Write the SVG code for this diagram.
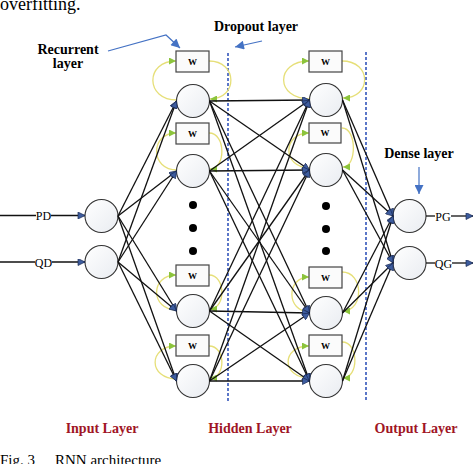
<svg xmlns="http://www.w3.org/2000/svg" width="474" height="464" viewBox="0 0 474 464">
<defs>
<linearGradient id="cg" x1="0" y1="0" x2="1" y2="1">
<stop offset="0" stop-color="#ffffff"/><stop offset="1" stop-color="#e9ecf1"/>
</linearGradient>
<marker id="ab" viewBox="0 0 10 10" refX="10" refY="5" markerWidth="9" markerHeight="7" markerUnits="userSpaceOnUse" orient="auto">
<path d="M0,0 L10,5 L0,10 z" fill="#3d5c9e" stroke="#1b2b55" stroke-width="1"/>
</marker>
<marker id="ag" viewBox="0 0 10 10" refX="10" refY="5" markerWidth="8" markerHeight="7" markerUnits="userSpaceOnUse" orient="auto">
<path d="M0,0 L10,5 L0,10 z" fill="#8cc43c"/>
</marker>
<marker id="ap" viewBox="0 0 10 10" refX="10" refY="5" markerWidth="11" markerHeight="9" markerUnits="userSpaceOnUse" orient="auto">
<path d="M0,0 L10,5 L0,10 z" fill="#4472c4"/>
</marker>
<style>
.n{fill:url(#cg);stroke:#333;stroke-width:1.1}
.b{fill:#fbfbfb;stroke:#444;stroke-width:1.2}
.w{font-family:"Liberation Serif",serif;font-weight:bold;font-size:9px;text-anchor:middle}
.c{stroke:#111;stroke-width:1.3;fill:none;marker-end:url(#ab)}
.l{stroke:#e6df78;stroke-width:1.3;fill:none;marker-end:url(#ag)}
.p{stroke:#4472c4;stroke-width:1.2;fill:none;marker-end:url(#ap)}
.d{stroke:#3355bb;stroke-width:1.6;stroke-dasharray:3 2}
.t{font-family:"Liberation Serif",serif;font-size:12px;text-anchor:middle}
.h{font-family:"Liberation Serif",serif;font-weight:bold;font-size:14px;text-anchor:middle}
.r{font-family:"Liberation Serif",serif;font-weight:bold;font-size:14px;text-anchor:middle;fill:#a01525}
.dot{fill:#000}
</style>
</defs>
<rect width="474" height="464" fill="#fff"/>

<text x="0" y="10" font-family="Liberation Serif, serif" font-size="18">overfitting.</text>
<text x="0" y="465" font-family="Liberation Serif, serif" font-size="15">Fig. 3</text>
<text x="55" y="465" font-family="Liberation Serif, serif" font-size="15">RNN architecture</text>

<g id="labels">
<text class="h" x="68" y="54">Recurrent</text>
<text class="h" x="68" y="68">layer</text>
<text class="h" x="256" y="31">Dropout layer</text>
<text class="h" x="419" y="158">Dense layer</text>
<text class="r" x="102" y="433">Input Layer</text>
<text class="r" x="250" y="433">Hidden Layer</text>
<text class="r" x="416" y="433">Output Layer</text>
</g>

<g id="dropout-lines">
<line class="d" x1="228" y1="53" x2="228" y2="402"/>
<line class="d" x1="366" y1="52" x2="366" y2="402"/>
</g>

<g id="pointers">
<polyline class="p" points="108,51 166,35 180,48"/>
<line class="p" x1="262" y1="41" x2="235" y2="47"/>
<line class="p" x1="419" y1="167" x2="419" y2="194"/>
</g>

<g id="loops">
<path class="l" d="M177,100 C145,100 145,61 176,61"/>
<path class="l" d="M209,61 C238,61 238,99 210,99"/>
<path class="l" d="M177,170 C150,170 150,133 176,133"/>
<path class="l" d="M209,133 C226,133 226,169 210,169"/>
<path class="l" d="M177,310 C150,310 150,275 176,275"/>
<path class="l" d="M209,275 C226,275 226,309 210,309"/>
<path class="l" d="M177,379 C148,379 148,346 176,346"/>
<path class="l" d="M209,346 C226,346 226,378 210,378"/>
<path class="l" d="M310,99 C275,99 275,61 309,61"/>
<path class="l" d="M342,61 C372,61 372,98 343,98"/>
<path class="l" d="M310,168 C282,168 282,133 309,133"/>
<path class="l" d="M342,128 C357,128 357,167 343,167"/>
<path class="l" d="M310,312 C286,312 286,277 309,277"/>
<path class="l" d="M342,272 C364,272 364,311 343,311"/>
<path class="l" d="M310,378 C281,378 281,346 309,346"/>
<path class="l" d="M342,342 C359,342 359,378 343,378"/>
</g>

<g id="input-PD"><circle class="n" cx="101.5" cy="216" r="16.5"/></g>
<g id="input-QD"><circle class="n" cx="101.5" cy="262" r="16.5"/></g>
<g id="h1-1"><rect class="b" x="176" y="51" width="33" height="21"/><text class="w" x="192.5" y="65">W</text><circle class="n" cx="193" cy="101" r="16.5"/></g>
<g id="h1-2"><rect class="b" x="176" y="123" width="33" height="21"/><text class="w" x="192.5" y="137">W</text><circle class="n" cx="193" cy="171" r="16.5"/></g>
<g id="h1-3"><rect class="b" x="176" y="265" width="33" height="21"/><text class="w" x="192.5" y="279">W</text><circle class="n" cx="193" cy="311" r="16.5"/></g>
<g id="h1-4"><rect class="b" x="176" y="335" width="33" height="21"/><text class="w" x="192.5" y="349">W</text><circle class="n" cx="193" cy="381" r="16.5"/></g>
<g id="h2-1"><rect class="b" x="309" y="51" width="33" height="21"/><text class="w" x="325.5" y="65">W</text><circle class="n" cx="326" cy="100" r="16.5"/></g>
<g id="h2-2"><rect class="b" x="309" y="123" width="32" height="20"/><text class="w" x="325" y="136">W</text><circle class="n" cx="326" cy="170" r="16.5"/></g>
<g id="h2-3"><rect class="b" x="309" y="267" width="33" height="21"/><text class="w" x="325.5" y="281">W</text><circle class="n" cx="326" cy="313" r="16.5"/></g>
<g id="h2-4"><rect class="b" x="309" y="335" width="33" height="21"/><text class="w" x="325.5" y="349">W</text><circle class="n" cx="326" cy="381" r="16.5"/></g>
<g id="output-PG"><circle class="n" cx="409.5" cy="216" r="16.5"/></g>
<g id="output-QG"><circle class="n" cx="409.5" cy="263" r="16.5"/></g>
<g id="dots">
<circle class="dot" cx="193" cy="205" r="4"/><circle class="dot" cx="193" cy="228" r="4"/><circle class="dot" cx="193" cy="251" r="4"/>
<circle class="dot" cx="326" cy="206" r="4"/><circle class="dot" cx="326" cy="229" r="4"/><circle class="dot" cx="326" cy="251" r="4"/>
</g>

<g id="io">
<line x1="0" y1="215.5" x2="36" y2="215.5" stroke="#111" stroke-width="1.3"/>
<line class="c" x1="51" y1="215.5" x2="85" y2="215.5"/>
<text class="t" x="43.5" y="220">PD</text>
<line x1="0" y1="262" x2="35" y2="262" stroke="#111" stroke-width="1.3"/>
<line class="c" x1="52" y1="262" x2="85" y2="262"/>
<text class="t" x="43.5" y="266.5">QD</text>
<line x1="426" y1="216" x2="435" y2="216" stroke="#111" stroke-width="1.3"/>
<line class="c" x1="451" y1="216" x2="473" y2="216"/>
<text class="t" x="443" y="220.5">PG</text>
<line x1="426" y1="263" x2="435" y2="263" stroke="#111" stroke-width="1.3"/>
<line class="c" x1="452" y1="263" x2="473" y2="263"/>
<text class="t" x="443.5" y="267.5">QG</text>
</g>

<g id="connectors">
<line class="c" x1="118" y1="216" x2="176.5" y2="101"/>
<line class="c" x1="118" y1="216" x2="176.5" y2="171"/>
<line class="c" x1="118" y1="216" x2="176.5" y2="311"/>
<line class="c" x1="118" y1="216" x2="176.5" y2="381"/>
<line class="c" x1="118" y1="262" x2="176.5" y2="101"/>
<line class="c" x1="118" y1="262" x2="176.5" y2="171"/>
<line class="c" x1="118" y1="262" x2="176.5" y2="311"/>
<line class="c" x1="118" y1="262" x2="176.5" y2="381"/>

<line class="c" x1="209.5" y1="101" x2="309.5" y2="100"/>
<line class="c" x1="209.5" y1="101" x2="309.5" y2="170"/>
<line class="c" x1="209.5" y1="101" x2="309.5" y2="313"/>
<line class="c" x1="209.5" y1="101" x2="309.5" y2="381"/>
<line class="c" x1="209.5" y1="171" x2="309.5" y2="100"/>
<line class="c" x1="209.5" y1="171" x2="309.5" y2="170"/>
<line class="c" x1="209.5" y1="171" x2="309.5" y2="313"/>
<line class="c" x1="209.5" y1="171" x2="309.5" y2="381"/>
<line class="c" x1="209.5" y1="311" x2="309.5" y2="100"/>
<line class="c" x1="209.5" y1="311" x2="309.5" y2="170"/>
<line class="c" x1="209.5" y1="311" x2="309.5" y2="313"/>
<line class="c" x1="209.5" y1="311" x2="309.5" y2="381"/>
<line class="c" x1="209.5" y1="381" x2="309.5" y2="100"/>
<line class="c" x1="209.5" y1="381" x2="309.5" y2="170"/>
<line class="c" x1="209.5" y1="381" x2="309.5" y2="313"/>
<line class="c" x1="209.5" y1="381" x2="309.5" y2="381"/>

<line class="c" x1="342.5" y1="100" x2="393" y2="216"/>
<line class="c" x1="342.5" y1="100" x2="393" y2="263"/>
<line class="c" x1="342.5" y1="170" x2="393" y2="216"/>
<line class="c" x1="342.5" y1="170" x2="393" y2="263"/>
<line class="c" x1="342.5" y1="313" x2="393" y2="216"/>
<line class="c" x1="342.5" y1="313" x2="393" y2="263"/>
<line class="c" x1="342.5" y1="381" x2="393" y2="216"/>
<line class="c" x1="342.5" y1="381" x2="393" y2="263"/>
</g>
</svg>
